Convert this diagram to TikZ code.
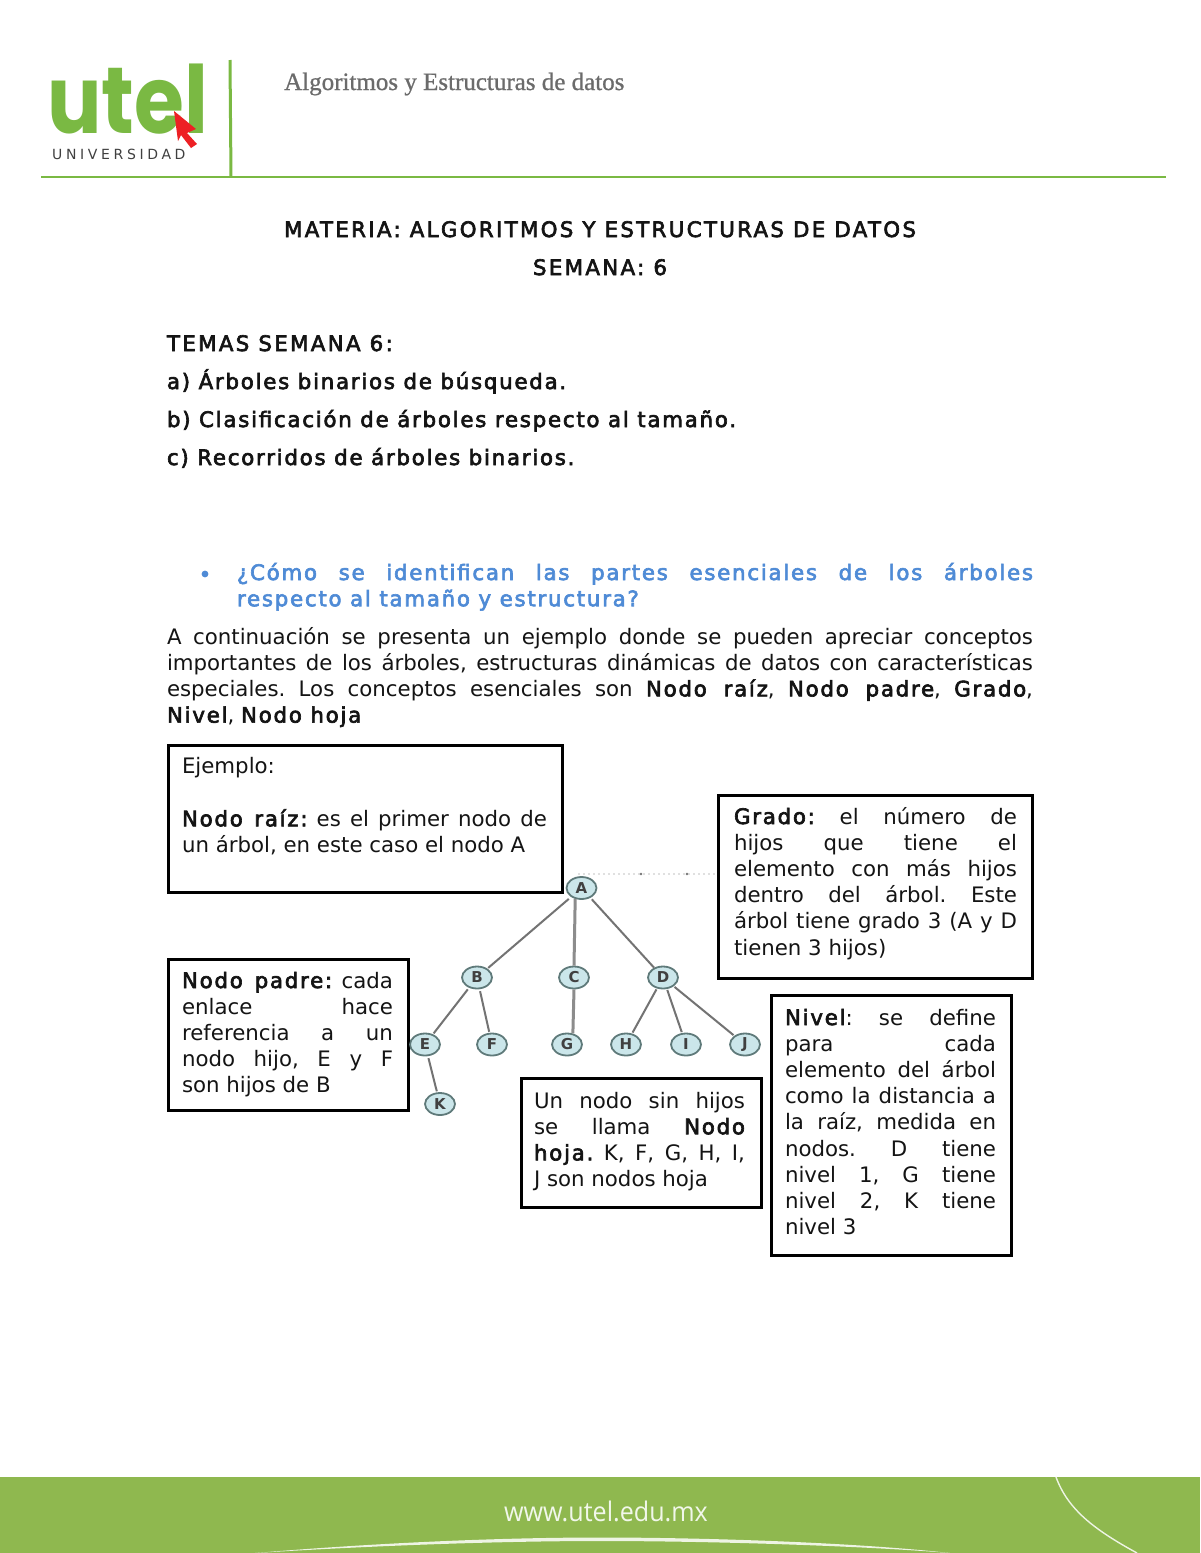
\documentclass[tikz,border=0pt]{standalone}
\usepackage{fontspec}
\setmainfont{DejaVu Sans}
\newfontfamily\hdrfont[FakeBold=0.8]{Liberation Serif}
\newfontfamily\logofont{Poppins}
\newfontfamily\unifont[LetterSpace=26]{DejaVu Sans}
\newfontfamily\webfont{Open Sans}
\newfontfamily\fbfont[LetterSpace=8.3,FakeBold=3]{DejaVu Sans}
\newfontfamily\fbcaps[LetterSpace=11,FakeBold=3]{DejaVu Sans}
\definecolor{utelgreen}{HTML}{7AB943}
\definecolor{footgreen}{HTML}{8FB84F}
\definecolor{headblue}{HTML}{4F8BD6}
\definecolor{nodefill}{HTML}{CBE6EA}
\definecolor{nodeline}{HTML}{5F7A7A}
\definecolor{txt}{HTML}{141414}
\definecolor{arrowred}{HTML}{ED2024}
\newcommand{\fb}[1]{{\fbfont #1}}
\newcommand{\pbody}[2]{\vtop{\hsize=#1pt \frenchspacing \parindent=0pt \baselineskip=26.2pt \pretolerance=-1 \tolerance=10000 \hbadness=10000 \hfuzz=30pt \hyphenpenalty=10000 \leftskip=0pt #2\par}}
\tikzset{
  x=1pt,y=-1pt,
  txtnode/.style={anchor=base west,inner sep=0pt,outer sep=0pt,text=txt,font=\fontsize{21.3}{26.2}\selectfont},
  ctrnode/.style={anchor=base,inner sep=0pt,outer sep=0pt,text=txt,font=\fontsize{21.3}{26.2}\selectfont},
  framebox/.style={draw=black,line width=3pt,fill=white},
  treenode/.style={ellipse,draw=nodeline,line width=1.8pt,fill=nodefill,minimum width=30pt,minimum height=22pt,inner sep=0pt,font=\fontsize{15}{15}\selectfont\bfseries,text=black!75},
  edge/.style={draw=black!55,line width=2pt},
  thickedge/.style={draw=black!45,line width=3pt}
}
\usetikzlibrary{shapes.geometric}
\begin{document}
\begin{tikzpicture}
\useasboundingbox (0,0) rectangle (1200,1553);
\fill[white] (0,0) rectangle (1200,1553);
% header
\node[anchor=base west,inner sep=0pt,text=utelgreen,text depth=0pt,text height=50pt,xscale=0.86,transform shape,font=\logofont\bfseries\fontsize{94}{94}\selectfont] (logo) at (47,133) {utel};
\node[anchor=base west,inner sep=0pt,text=black!75,font=\unifont\fontsize{14}{14}\selectfont] (uni) at (52,159) {UNIVERSIDAD};
\fill[arrowred] (174,111) -- (196,129) -- (187,133) -- (197,144) -- (191,148) -- (181,135) -- (178,141) -- cycle;
\draw[utelgreen,line width=3pt] (230,60) -- (231,177);
\draw[utelgreen,line width=2.8pt] (41,177) -- (1166,177);
\node[anchor=base west,inner sep=0pt,text=black!58,font=\hdrfont\fontsize{25}{26}\selectfont] (hdr) at (284,90) {Algoritmos y Estructuras de datos};
% titles
\node[ctrnode] (t1) at (600,237) {\fbcaps MATERIA: ALGORITMOS Y ESTRUCTURAS DE DATOS};
\node[ctrnode] (t2) at (600,275) {\fbcaps SEMANA: 6};
\node[txtnode] (t3) at (167,351) {\fbcaps TEMAS SEMANA 6:};
\node[txtnode] (t4) at (167,389) {\fbfont a) Árboles binarios de búsqueda.};
\node[txtnode] (t5) at (167,427) {\fbfont b) Clasificación de árboles respecto al tamaño.};
\node[txtnode] (t6) at (167,465) {\fbfont c) Recorridos de árboles binarios.};
% bullet question
\fill[headblue] (205,574) circle (3.4);
\node[txtnode,text=headblue] (q) at (237,580) {\pbody{796}{\fbfont ¿Cómo se identifican las partes esenciales de los árboles\linebreak respecto al tamaño y estructura?}};
\node[txtnode] (intro) at (167,644) {\pbody{866}{A continuación se presenta un ejemplo donde se pueden apreciar conceptos\linebreak importantes de los árboles, estructuras dinámicas de datos con características\linebreak especiales. Los conceptos esenciales son \fb{Nodo raíz}, \fb{Nodo padre}, \fb{Grado},\linebreak \fb{Nivel}, \fb{Nodo hoja}}};
% faint dots
\draw[black!12,line width=1.2pt,dash pattern=on 2pt off 3pt] (578,874) -- (716,874);
\fill[black!55] (641,874) circle (1.3) (687,874) circle (1.3);
% frames
\draw[framebox] (168,745) rectangle (562,892);
\draw[framebox] (718,795) rectangle (1032,978);
\draw[framebox] (168,959) rectangle (408,1110);
\draw[framebox] (521,1078) rectangle (761,1207);
\draw[framebox] (771,995) rectangle (1011,1255);
% box texts
\node[txtnode] (b1) at (182,773.5) {\pbody{365}{Ejemplo:\par\vskip26.6pt \fb{Nodo raíz:} es el primer nodo de\linebreak un árbol, en este caso el nodo A}};
\node[txtnode] (b2) at (734,824) {\pbody{283}{\fb{Grado:} el número de\linebreak hijos que tiene el\linebreak elemento con más hijos\linebreak dentro del árbol. Este\linebreak árbol tiene grado 3 (A y D\linebreak tienen 3 hijos)}};
\node[txtnode] (b3) at (182,988) {\pbody{211}{\fb{Nodo padre:} cada\linebreak enlace hace\linebreak referencia a un\linebreak nodo hijo, E y F\linebreak son hijos de B}};
\node[txtnode] (b4) at (534,1108) {\pbody{211}{Un nodo sin hijos\linebreak se llama \fb{Nodo}\linebreak \fb{hoja.} K, F, G, H, I,\linebreak J son nodos hoja}};
\node[txtnode] (b5) at (785,1025) {\pbody{211}{\fb{Nivel}: se define\linebreak para cada\linebreak elemento del árbol\linebreak como la distancia a\linebreak la raíz, medida en\linebreak nodos. D tiene\linebreak nivel 1, G tiene\linebreak nivel 2, K tiene\linebreak nivel 3}};
% tree
\node[treenode] (A) at (581.5,888) {A};
\node[treenode] (B) at (477,977.5) {B};
\node[treenode] (C) at (574,977.5) {C};
\node[treenode] (D) at (663,977.5) {D};
\node[treenode] (E) at (425,1044.5) {E};
\node[treenode] (F) at (492,1044.5) {F};
\node[treenode] (G) at (567,1044.5) {G};
\node[treenode] (H) at (626,1044.5) {H};
\node[treenode] (I) at (686,1044.5) {I};
\node[treenode] (J) at (745,1044.5) {J};
\node[treenode] (K) at (440,1104) {K};
\draw[edge,shorten >=1pt,shorten <=3pt] (A) -- (B);
\draw[thickedge] (A.-120) -- (C.north);
\draw[edge,shorten <=2pt] (A) -- (D);
\draw[edge,shorten <=2pt,shorten >=1pt] (B) -- (E);
\draw[edge,shorten <=2pt,shorten >=1pt] (B) -- (F);
\draw[thickedge] (C.south) -- (G.62);
\draw[edge,shorten <=1pt,shorten >=1pt] (D) -- (H);
\draw[edge,shorten <=1pt,shorten >=1pt] (D) -- (I);
\draw[edge,shorten <=1pt,shorten >=1pt] (D) -- (J);
\draw[edge,shorten <=2pt,shorten >=1pt] (E) -- (K);
% footer
\fill[footgreen] (0,1477) rectangle (1200,1553);
\draw[white!85!footgreen,line width=1.4pt] (1056,1477) .. controls (1068,1510) and (1095,1530) .. (1137,1553);
\fill[white!85!footgreen] (255,1553) .. controls (400,1541) and (520,1537.5) .. (600,1537.5) .. controls (700,1537.5) and (850,1542) .. (950,1553) .. controls (850,1545) and (700,1541) .. (600,1541) .. controls (520,1541) and (400,1544) .. (255,1553) -- cycle;
\node[anchor=base,inner sep=0pt,text=white!88!footgreen,xscale=0.93,transform shape,font=\webfont\fontsize{27}{27}\selectfont] (web) at (606,1521) {www.utel.edu.mx};
\end{tikzpicture}
\end{document}
